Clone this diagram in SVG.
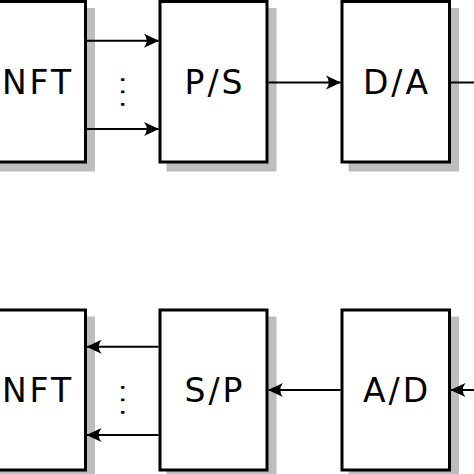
<svg xmlns="http://www.w3.org/2000/svg" width="474" height="474" viewBox="0 0 474 474">
<defs>
<marker id="ah" markerUnits="userSpaceOnUse" markerWidth="18" markerHeight="18" viewBox="-16 -9 18 18" refX="0" refY="0" orient="auto">
<path d="M0.5,0 L-14.5,-7 Q-9,0 -14.5,7 Z" fill="#000"/>
</marker>
</defs>
<style>
.box{fill:#fff;stroke:#000;stroke-width:3}
.sh{fill:#bdbdbd}
.lbl{font-family:"DejaVu Sans",sans-serif;font-size:33px;text-anchor:middle;fill:#000}
.dots{font-family:"DejaVu Sans",sans-serif;font-size:26px;text-anchor:middle;fill:#000;letter-spacing:4.2px}
.wire{stroke:#000;stroke-width:2;fill:none}
.arr{marker-end:url(#ah)}
</style>
<rect width="474" height="474" fill="#fff"/>
<g id="nft-tx">
<rect class="sh" x="-6" y="8" width="101" height="163.5"/>
<rect class="box" x="-12.5" y="1.5" width="98" height="160.5"/>
<text class="lbl" x="36.5" y="94" letter-spacing="3" dx="1.5">NFT</text>
</g>
<g id="ps">
<rect class="sh" x="166.5" y="8" width="110" height="163.5"/>
<rect class="box" x="160" y="1.5" width="107" height="160.5"/>
<text class="lbl" x="213.5" y="94" letter-spacing="3" dx="1.5">P/S</text>
</g>
<g id="da">
<rect class="sh" x="348.5" y="8" width="110.5" height="163.5"/>
<rect class="box" x="342" y="1.5" width="107.5" height="160.5"/>
<text class="lbl" x="395.5" y="94" letter-spacing="3" dx="1.5">D/A</text>
</g>
<g id="nft-rx">
<rect class="sh" x="-6" y="316.5" width="101" height="163"/>
<rect class="box" x="-12.5" y="310" width="98" height="160"/>
<text class="lbl" x="36.5" y="402" letter-spacing="3" dx="1.5">NFT</text>
</g>
<g id="sp">
<rect class="sh" x="166.5" y="316.5" width="110" height="163"/>
<rect class="box" x="160" y="310" width="107" height="160"/>
<text class="lbl" x="213.5" y="402" letter-spacing="3" dx="1.5">S/P</text>
</g>
<g id="ad">
<rect class="sh" x="348.5" y="316.5" width="110.5" height="163"/>
<rect class="box" x="342" y="310" width="107.5" height="160"/>
<text class="lbl" x="395.5" y="402" letter-spacing="3" dx="1.5">A/D</text>
</g>
<g id="connectors">
<line class="wire arr" x1="87" y1="40.7" x2="158.5" y2="40.7"/>
<line class="wire arr" x1="87" y1="129" x2="158.5" y2="129"/>
<line class="wire arr" x1="268.5" y1="82.5" x2="340.5" y2="82.5"/>
<line class="wire" x1="451" y1="82.5" x2="474" y2="82.5"/>
<line class="wire arr" x1="158.5" y1="346.7" x2="87" y2="346.7"/>
<line class="wire arr" x1="158.5" y1="435" x2="87" y2="435"/>
<line class="wire arr" x1="340.5" y1="390" x2="268.5" y2="390"/>
<line class="wire arr" x1="474" y1="390" x2="451" y2="390"/>
<text class="dots" transform="translate(122.7,92) rotate(90)" x="0" y="2.1" dx="2.1">...</text>
<text class="dots" transform="translate(122.7,399.8) rotate(90)" x="0" y="2.1" dx="2.1">...</text>
</g>
</svg>
